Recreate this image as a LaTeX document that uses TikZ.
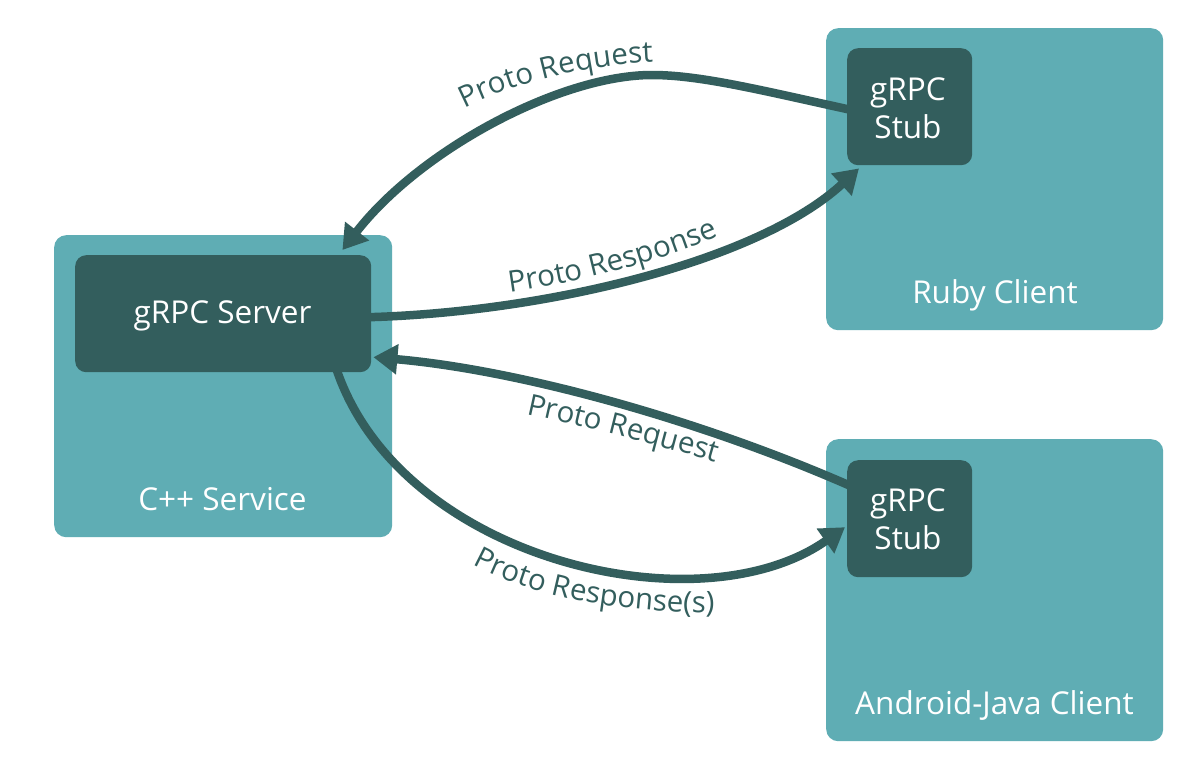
\documentclass[tikz,border=0pt]{standalone}
\usepackage{fontspec}
\setmainfont{Open Sans}
\usetikzlibrary{arrows.meta,calc,decorations.text}
\definecolor{lt}{HTML}{5FADB4}
\definecolor{dk}{HTML}{335E5D}
\newcommand\boxfont{\fontsize{31.5}{38}\selectfont}
\newcommand\lblfont{\fontsize{29.5}{34}\selectfont}
\begin{document}
\begin{tikzpicture}[x=1pt,y=-1pt,
  outer/.style={fill=lt, rounded corners=12pt, inner sep=0pt, anchor=north west},
  inner/.style={fill=dk, rounded corners=11pt, inner sep=0pt, anchor=north west},
  wtxt/.style={text=white, font=\boxfont, anchor=base, inner sep=0pt},
  arr/.style={draw=dk, line width=8.5pt, -{Triangle[length=24pt,width=29pt]}},
  lbl/.style={decorate, decoration={text along path, text align=center, text color=dk}}
]
\useasboundingbox[fill=white] (0,0) rectangle (1200,763);

% boxes
\node[outer, minimum width=338pt, minimum height=302pt] (cpp) at (54,235) {};
\node[inner, minimum width=296pt, minimum height=117pt] (server) at (75,255) {};
\node[outer, minimum width=337pt, minimum height=302pt] (ruby) at (826,28) {};
\node[inner, minimum width=125pt, minimum height=117pt] (stub1) at (847,48) {};
\node[outer, minimum width=337pt, minimum height=302pt] (android) at (826,439) {};
\node[inner, minimum width=125pt, minimum height=117pt] (stub2) at (847,460) {};

% texts
\node[wtxt] (tserver) at (222.5,323) {gRPC Server};
\node[wtxt] (tcpp) at (222.5,510) {C++ Service};
\node[wtxt] (truby) at (995,303) {Ruby Client};
\node[wtxt] (tandroid) at (994.5,714) {Android-Java Client};
\node[wtxt] (ts1a) at (908,100) {gRPC};
\node[wtxt] (ts1b) at (908,138) {Stub};
\node[wtxt] (ts2a) at (908,511) {gRPC};
\node[wtxt] (ts2b) at (908,549) {Stub};

% connectors
\draw[arr] ($(stub1.west)+(3,3)$) .. controls (760,90) and (700,75) .. (652,75)
  .. controls (560,75) and (420,150) .. ($(server.north east)+(-29,-5)$);
\draw[arr] ($(server.east)+(-3,3.5)$) .. controls (550,312) and (760,260) .. ($(stub1.south west)+(12,3)$);
\draw[arr] ($(stub2.west)+(3,-33)$) .. controls (700,420) and (520,370) .. ($(server.east)+(2,43.5)$);
\draw[arr] ($(server.south)+(113,-4)$) .. controls (400,560) and (700,630) .. ($(stub2.west)+(-2,8.5)$);

% labels
\path[lbl, decoration={text={|\lblfont|Proto Request}}] (463,109) .. controls (510,85) and (580,65) .. (655,62);
\path[lbl, decoration={text={|\lblfont|Proto Response}}] (510,292) .. controls (580,282) and (650,265) .. (718,236);
\path[lbl, decoration={text={|\lblfont|Proto Request}}] (526,414) .. controls (590,428) and (650,443) .. (716,462);
\path[lbl, decoration={text={|\lblfont|Proto Response(s)}}] (468,562) .. controls (520,592) and (600,612) .. (720,613);
\end{tikzpicture}
\end{document}
